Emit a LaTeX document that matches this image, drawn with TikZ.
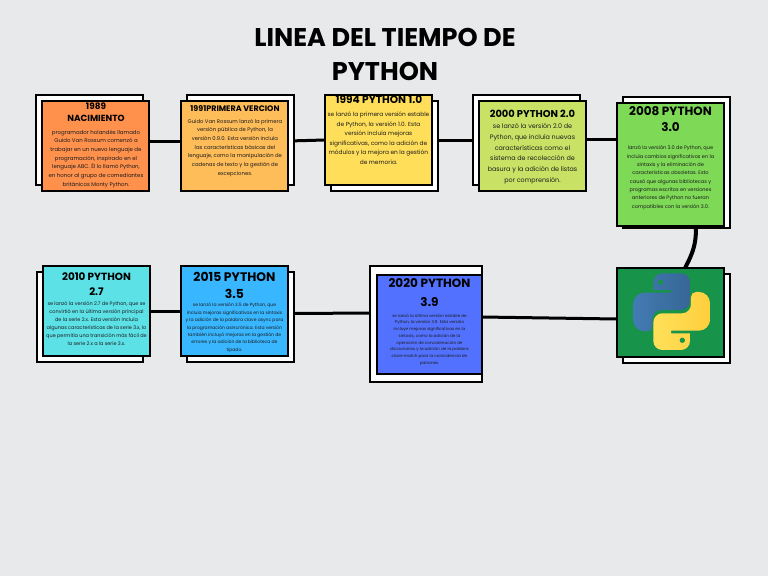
\documentclass[tikz,border=0pt]{standalone}
\usepackage{fontspec}
\setmainfont{Poppins}
\usetikzlibrary{backgrounds,calc}
\definecolor{pagebg}{HTML}{E8E9EB}
\definecolor{corange}{HTML}{FF914D}
\definecolor{clorange}{HTML}{FFBD59}
\definecolor{cyellow}{HTML}{FFDE59}
\definecolor{clime}{HTML}{C9E265}
\definecolor{cgreen}{HTML}{7ED957}
\definecolor{ccyan}{HTML}{5CE1E6}
\definecolor{cblue}{HTML}{38B6FF}
\definecolor{cindigo}{HTML}{5271FF}
\definecolor{cdgreen}{HTML}{18934A}
\definecolor{inkc}{HTML}{1C1C1C}
\definecolor{pyblueA}{HTML}{427BB3}
\definecolor{pyblueB}{HTML}{376696}
\definecolor{pyyelA}{HTML}{FFE05A}
\definecolor{pyyelB}{HTML}{FFCF3C}
\tikzset{
  card/.style={draw=black,line width=2pt,inner sep=0pt,outer sep=0pt},
  link/.style={draw=black,line width=3pt},
  txt/.style={inner sep=0pt,outer sep=0pt,align=center,anchor=north,text=inkc},
}
% name x1 y1 x2 y2 colour
\newcommand\cardbox[6]{%
  \pgfmathsetmacro\cw{#4-#2-2}\pgfmathsetmacro\ch{#5-#3-2}%
  \node[card,fill=#6,minimum width=\cw pt,minimum height=\ch pt] (#1) at ({(#2+#4)/2},{(#3+#5)/2}) {};}
% name x ytop size leading text
\newcommand\blocktext[6]{%
  \node[txt,font=\fontsize{#4}{#5}\selectfont] (#1) at (#2,#3) {#6};}
\newcommand\headtext[6]{%
  \node[txt,text=black,font=\fontsize{#4}{#5}\selectfont\bfseries] (#1) at (#2,#3) {#6};}
\begin{document}
\begin{tikzpicture}[x=1pt,y=-1pt]
\useasboundingbox (0,0) rectangle (768,576);
% cards
\cardbox{b1}{35}{94}{144}{186}{white}
\cardbox{f1}{41}{100}{150}{192}{corange}
\cardbox{b2}{186}{94}{295}{186}{white}
\cardbox{f2}{180}{100}{289}{192}{clorange}
\cardbox{b3}{330}{100}{439}{192}{white}
\cardbox{f3}{324}{94}{433}{186}{cyellow}
\cardbox{b4}{472}{94}{581}{186}{white}
\cardbox{f4}{478}{100}{587}{192}{clime}
\cardbox{b5}{622}{96}{731}{229}{white}
\cardbox{f5}{616}{102}{725}{227}{cgreen}
\cardbox{b6}{622}{273}{731}{364}{white}
\cardbox{f6}{616}{267}{725}{358}{cdgreen}
\cardbox{b7}{36}{271}{144}{363}{white}
\cardbox{f7}{42}{265}{151}{357}{ccyan}
\cardbox{b8}{186}{271}{295}{363}{white}
\cardbox{f8}{180}{265}{289}{357}{cblue}
\cardbox{b9}{369}{265}{483}{383}{white}
\cardbox{f9}{376}{274}{483}{375}{cindigo}
% title
\headtext{title}{385}{28}{25.6}{34}{LINEA DEL TIEMPO DE\\PYTHON}
% headings
\headtext{h1}{96}{103}{8.9}{12}{1989\\NACIMIENTO}
\headtext{h2}{235}{105.7}{8}{10}{1991PRIMERA VERCION}
\headtext{h3}{379}{96}{10.6}{12}{1994 PYTHON 1.0}
\headtext{h4}{532.5}{109.7}{9.9}{12}{2000 PYTHON 2.0}
\headtext{h5}{670.5}{107}{12}{16}{2008 PYTHON\\3.0}
\headtext{h7}{96.5}{272.5}{10.4}{15}{2010 PYTHON\\2.7}
\headtext{h8}{234.5}{272}{12.4}{17}{2015 PYTHON\\3.5}
\headtext{h9}{429.5}{279}{12}{19}{2020 PYTHON\\3.9}
% bodies
\blocktext{t1}{96}{130}{5.45}{8.67}{programador holandés llamado\\Guido Van Rossum comenzó a\\trabajar en un nuevo lenguaje de\\programación, inspirado en el\\lenguaje ABC. Él lo llamó  Python,\\en honor al grupo de comediantes\\británicos Monty Python.}
\blocktext{t2}{235}{119}{5.3}{8.67}{Guido Van Rossum lanzó la primera\\versión pública de Python, la\\versión 0.9.0. Esta versión incluía\\las características básicas del\\lenguaje, como la manipulación de\\cadenas de texto y la gestión de\\excepciones.}
\blocktext{t3}{378.5}{112.3}{5.85}{9.45}{se lanzó la primera versión estable\\de Python, la versión 1.0. Esta\\versión incluía mejoras\\significativas, como la adición de\\módulos y la mejora en la gestión\\de memoria.}
\blocktext{t4}{532.5}{123.5}{6.4}{10.8}{se lanzó la versión 2.0 de\\Python, que incluía nuevas\\características como el\\sistema de recolección de\\basura y la adición de listas\\por comprensión.}
\blocktext{t5}{670.5}{146}{5}{8.3}{lanzó la versión 3.0 de Python, que\\incluía cambios significativos en la\\sintaxis y la eliminación de\\características obsoletas. Esto\\causó que algunas bibliotecas y\\programas escritos en versiones\\anteriores de Python no fueran\\compatibles con la versión 3.0.}
\blocktext{t7}{96.5}{301.3}{4.95}{8}{se lanzó la versión 2.7 de Python, que se\\convirtió en la última versión principal\\de la serie 2.x. Esta versión incluía\\algunas características de la serie 3.x, lo\\que permitía una transición más fácil de\\la serie 2.x a la serie 3.x.}
\blocktext{t8}{234.5}{303.3}{4.5}{7.4}{se lanzó la versión 3.5 de  Python, que\\incluía mejoras significativas en la sintaxis\\y la adición de la palabra clave async para\\la programación asincrónica. Esta versión\\también incluyó mejoras en la gestión de\\errores y la adición de la biblioteca de\\tipado.}
\blocktext{t9}{429.5}{314}{4.1}{6.75}{se lanzó la última versión estable de\\Python, la versión 3.9. Esta versión\\incluye mejoras significativas en la\\sintaxis, como la adición de la\\operación de concatenación de\\diccionarios y la adición de la palabra\\clave match para la coincidencia de\\patrones.}
% python logo (coordinates: 1/3 px from (590,90))
\begin{scope}[shift={(590,90)},x=0.3333pt,y=-0.3333pt]
\shade[left color=pyblueA,right color=pyblueB,rounded corners=9pt]
  (190,600) -- (190,550) -- (300,550) -- (300,660) -- (187,660) [rounded corners=5pt] -- (187,724) [sharp corners] -- (170,724) [rounded corners=11pt] -- (130,724) -- (130,608) [sharp corners] -- (243,608) -- (243,600) -- cycle;
\shade[left color=pyyelA,right color=pyyelB,rounded corners=9pt]
  (300,730) -- (300,780) -- (190,780) -- (190,670) -- (303,670) [rounded corners=5pt] -- (303,606) [sharp corners] -- (320,606) [rounded corners=11pt] -- (360,606) -- (360,722) [sharp corners] -- (243,722) -- (243,730) -- cycle;
\fill[cdgreen] (212,577) circle[radius=8];
\fill[cdgreen] (277,751) circle[radius=8];
\end{scope}
% connectors
\begin{scope}[on background layer]
\fill[pagebg] (0,0) rectangle (768,576);
\draw[link] ([yshift=5pt]f1.east) -- ([yshift=5pt]f2.west);
\draw[link] ([yshift=5pt]f2.east) -- (f3.west);
\draw[link] ([yshift=6pt]b3.east) -- (b4.west);
\draw[link] ([yshift=7pt]f4.east) -- ([yshift=25.5pt]f5.west);
\draw[link,line width=4pt] ([xshift=19.5pt]b5.south) .. controls +(0,16) and +(8,-15) .. ([xshift=14.5pt]f6.north);
\draw[link] ([yshift=-6.5pt]f6.west) -- ([yshift=7.5pt]f9.east);
\draw[link] ([yshift=11pt]b9.west) -- ([yshift=3.5pt]b8.east);
\draw[link] (f8.west) -- (f7.east);
\end{scope}
\end{tikzpicture}
\end{document}
